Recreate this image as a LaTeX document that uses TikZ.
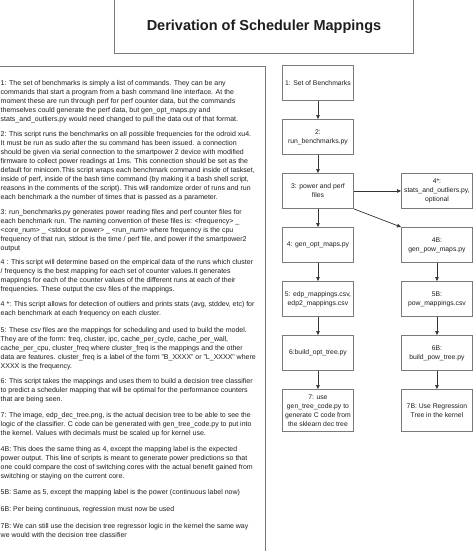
\documentclass[tikz,border=0pt]{standalone}
\usepackage{fontspec}
\setmainfont{Liberation Sans}
\usetikzlibrary{arrows.meta}
\definecolor{boxline}{HTML}{7A7A7A}
\definecolor{txt}{HTML}{1E1E1E}
\begin{document}
\begin{tikzpicture}[x=1pt,y=-1pt,
  flowbox/.style={draw=boxline, line width=0.9pt, fill=white, minimum width=71pt, minimum height=35pt, inner sep=1pt, align=center, font=\fontsize{6.8}{9}\selectfont, text=txt, anchor=north west},
  para/.style={anchor=north west, inner sep=0pt, align=left, font=\fontsize{7}{9}\selectfont, text=txt},
  flow/.style={-{Triangle[length=4pt,width=3.6pt]}, draw=black!80, line width=0.7pt}]
\useasboundingbox (0,0) rectangle (474,551);
\fill[white] (0,0) rectangle (474,551);
\node[draw=boxline, line width=1pt, minimum width=299pt, minimum height=54pt, anchor=north west, font=\fontsize{14.5}{16}\selectfont\bfseries, text=txt] (title) at (114,-1) {Derivation of Scheduler Mappings};
\node[draw=boxline, line width=1.2pt, minimum width=268pt, minimum height=500pt, anchor=north west, inner sep=0pt] (notes) at (-3,66) {};
\node[para] (p1) at (0.5,80.7) {1: The set of benchmarks is simply a list of commands. They can be any\\
commands that start a program from a bash command line interface. At the\\
moment these are run through perf for perf counter data, but the commands\\
themselves could generate the perf data, but gen\_opt\_maps.py and\\
stats\_and\_outliers.py would need changed to pull the data out of that format.};
\node[para] (p2) at (0.5,131.2) {2: This script runs the benchmarks on all possible frequencies for the odroid xu4.\\
It must be run as sudo after the su command has been issued. a connection\\
should be given via serial connection to the smartpower 2 device with modified\\
firmware to collect power readings at 1ms. This connection should be set as the\\
default for minicom.This script wraps each benchmark command inside of taskset,\\
inside of perf, inside of the bash time command (by making it a bash shell script,\\
reasons in the comments of the script). This will randomize order of runs and run\\
each benchmark a the number of times that is passed as a parameter.};
\node[para] (p3) at (0.5,209.7) {3: run\_benchmarks.py generates power reading files and perf counter files for\\
each benchmark run. The naming convention of these files is: <frequency> \_\\
<core\_num> \_ <stdout or power> \_ <run\_num> where frequency is the cpu\\
frequency of that run, stdout is the time / perf file, and power if the smartpower2\\
output};
\node[para] (p4) at (0.5,259.7) {4 : This script will determine based on the empirical data of the runs which cluster\\
/ frequency is the best mapping for each set of counter values.It generates\\
mappings for each of the counter values of the different runs at each of their\\
frequencies. These output the csv files of the mappings.};
\node[para] (p4s) at (0.5,301.7) {4 *: This script allows for detection of outliers and prints stats (avg, stddev, etc) for\\
each benchmark at each frequency on each cluster.};
\node[para] (p5) at (0.5,327.2) {5: These csv files are the mappings for scheduling and used to build the model.\\
They are of the form: freq, cluster, ipc, cache\_per\_cycle, cache\_per\_wall,\\
cache\_per\_cpu, cluster\_freq where cluster\_freq is the mappings and the other\\
data are features. cluster\_freq is a label of the form "B\_XXXX" or "L\_XXXX" where\\
XXXX is the frequency.};
\node[para] (p6) at (0.5,378.7) {6: This script takes the mappings and uses them to build a decision tree classifier\\
to predict a scheduler mapping that will be optimal for the performance counters\\
that are being seen.};
\node[para] (p7) at (0.5,412.7) {7: The image, edp\_dec\_tree.png, is the actual decision tree to be able to see the\\
logic of the classifier. C code can be generated with gen\_tree\_code.py to put into\\
the kernel. Values with decimals must be scaled up for kernel use.};
\node[para] (p4b) at (0.5,446.2) {4B: This does the same thing as 4, except the mapping label is the expected\\
power output. This line of scripts is meant to generate power predictions so that\\
one could compare the cost of switching cores with the actual benefit gained from\\
switching or staying on the current core.};
\node[para] (p5b) at (0.5,489.2) {5B: Same as 5, except the mapping label is the power (continuous label now)};
\node[para] (p6b) at (0.5,506.2) {6B: Per being continuous, regression must now be used};
\node[para] (p7b) at (0.5,523.2) {7B: We can still use the decision tree regressor logic in the kernel the same way\\
we would with the decision tree classifier};
\node[flowbox] (b1) at (282,65) {1: Set of Benchmarks};
\node[flowbox] (b2) at (282,119) {2:\\run\_benchmarks.py};
\node[flowbox] (b3) at (282,173) {3: power and perf\\files};
\node[flowbox] (b4s) at (401,173) {4*:\\stats\_and\_outliers.py,\\optional};
\node[flowbox] (b4) at (282,227) {4: gen\_opt\_maps.py};
\node[flowbox] (b4b) at (401,227) {4B:\\gen\_pow\_maps.py};
\node[flowbox] (b5) at (282,281) {5: edp\_mappings.csv,\\edp2\_mappings.csv};
\node[flowbox] (b5b) at (401,281) {5B:\\pow\_mappings.csv};
\node[flowbox] (b6) at (282,335) {6:build\_opt\_tree.py};
\node[flowbox] (b6b) at (401,335) {6B:\\build\_pow\_tree.py};
\node[flowbox, minimum height=42pt] (b7) at (282,389) {7: use\\gen\_tree\_code.py to\\generate C code from\\the sklearn dec tree};
\node[flowbox, minimum height=42pt] (b7b) at (401,389) {7B: Use Regression\\Tree in the kernel};
\draw[flow] (b1) -- (b2);
\draw[flow] (b2) -- (b3);
\draw[flow] (b3) -- (b4);
\draw[flow] (b4) -- (b5);
\draw[flow] (b5) -- (b6);
\draw[flow] (b6) -- (b7);
\draw[flow] (b3.east) -- (b4s.west);
\draw[flow] (b3.south east) -- (b4b.north west);
\draw[flow] (b4b) -- (b5b);
\draw[flow] (b5b) -- (b6b);
\draw[flow] (b6b) -- (b7b);
\end{tikzpicture}
\end{document}
